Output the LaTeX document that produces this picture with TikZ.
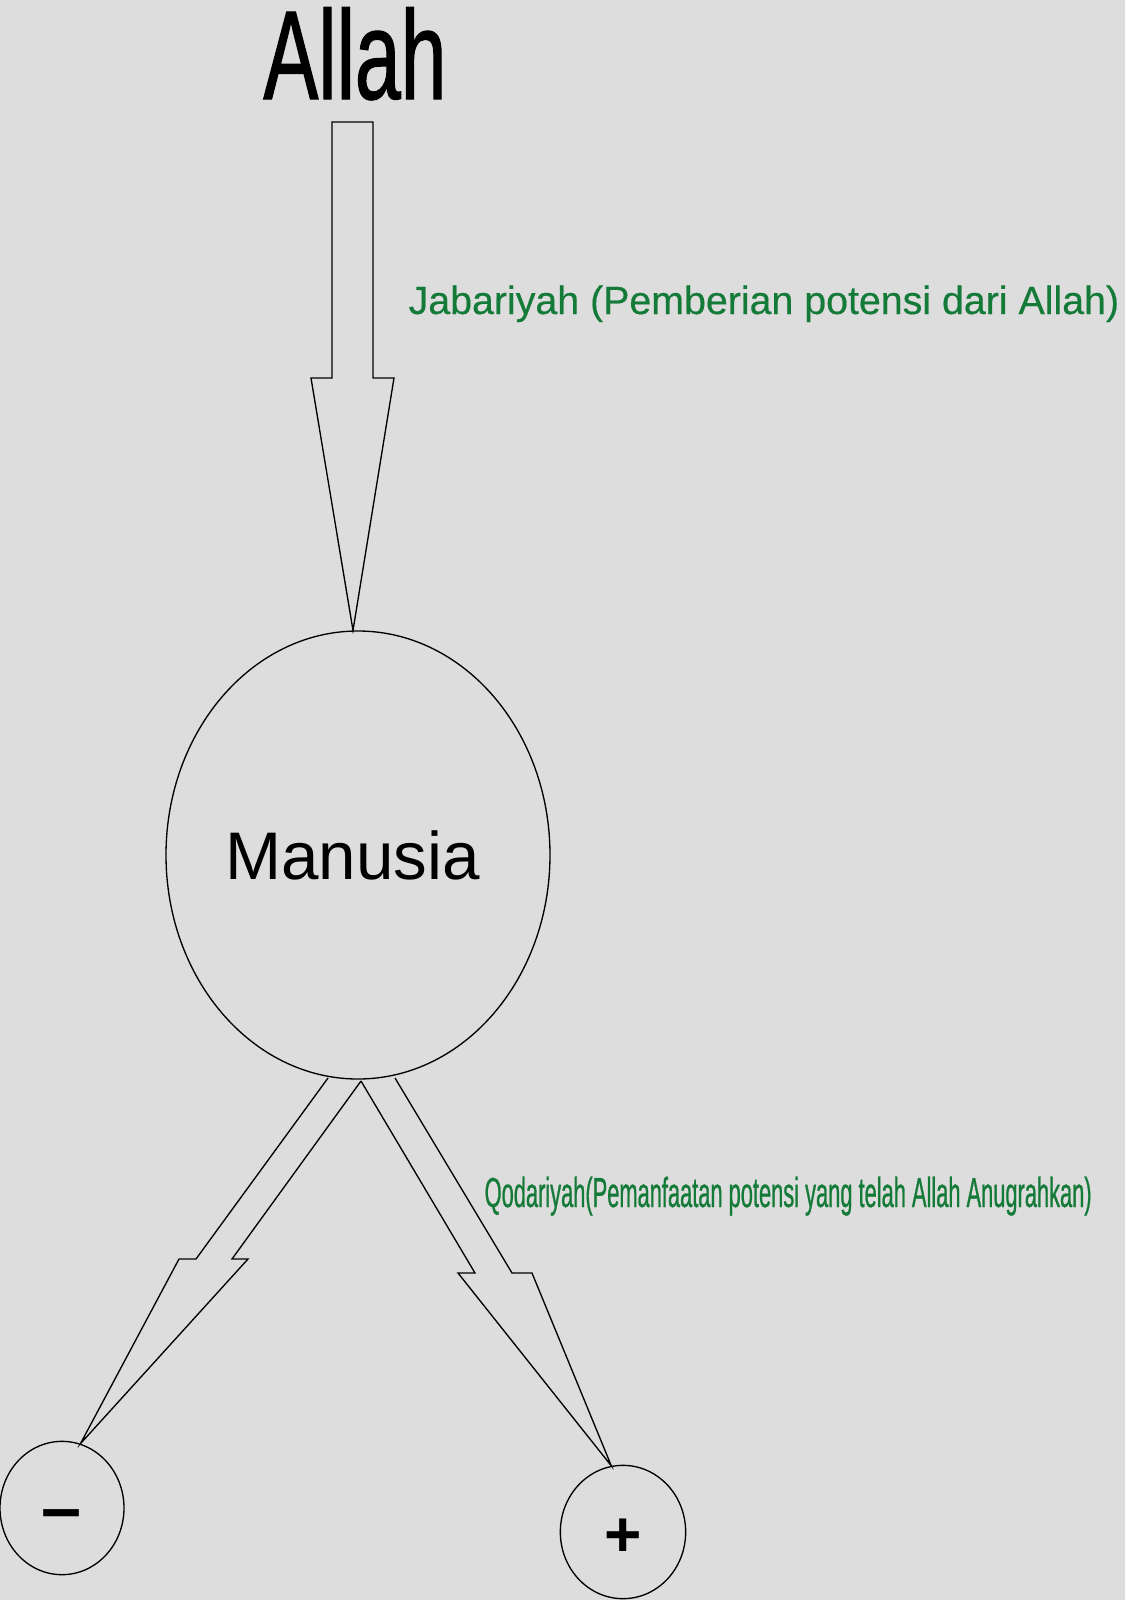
\documentclass[tikz,border=0pt]{standalone}
\usepackage{fontspec}
\setmainfont{Liberation Sans}
\newfontfamily\allahfont[FakeStretch=0.65, FakeBold=0.9]{Liberation Sans}
\newfontfamily\qodfont[FakeStretch=0.52, FakeBold=0.6]{Liberation Sans}
\newfontfamily\jabfont[FakeBold=0.4]{Liberation Sans}
\usepackage{tikz}
\usetikzlibrary{shapes,arrows,positioning,calc}
\definecolor{bggrey}{RGB}{221,221,221}
\definecolor{qgreen}{RGB}{20,122,56}

\begin{document}
\begin{tikzpicture}[x=0.75pt, y=-0.75pt, line width=1pt, auto,
  blob/.style={draw, ellipse, inner sep=0pt},
  blockarrow/.style={draw, line join=miter}]
\fill[bggrey] (0,0) rectangle (1125,1600);
\useasboundingbox (0,0) rectangle (1125,1600);
%nodes
\node[anchor=base, inner sep=0pt] (allah) at (355,99) {\allahfont\fontsize{95}{95}\selectfont Allah};
\node[blob, minimum width=288pt, minimum height=336pt] (manusia) at (358,855)
  {\fontsize{50.5}{51}\selectfont Manusia\kern8pt};
\node[blob, minimum width=93pt, minimum height=100pt, text height=36.5pt, text depth=0pt,
  font=\fontsize{54}{54}\selectfont\bfseries] (neg) at (62,1508) {–};
\node[blob, minimum width=94pt, minimum height=100pt, text height=36pt, text depth=0pt,
  font=\fontsize{48}{48}\selectfont\bfseries] (plus) at (623,1532) {+};
\node[anchor=base west, text=qgreen, inner sep=0pt] (jabariyah) at (408,314)
  {\jabfont\fontsize{29.5}{30}\selectfont Jabariyah (Pemberian potensi dari Allah)};
\node[anchor=base west, text=qgreen, inner sep=0pt] (qodariyah) at (484,1207)
  {\qodfont\fontsize{31.5}{32}\selectfont Qodariyah(Pemanfaatan potensi yang telah Allah Anugrahkan)};
%arrow ends
\coordinate (tiptop) at ($(manusia.north)+(-5,0)$);
\coordinate (tipneg) at (neg.74);
\coordinate (tipplus) at (plus.100);
\coordinate (split) at (361,1081);
%arrows
\draw[blockarrow] (332,122) -- (373,122) -- (373,378) -- (394,378) -- (tiptop)
  -- (311,378) -- (332,378) -- cycle;
\draw[blockarrow] (328,1078) -- (196,1259) -- (179,1259) -- (tipneg)
  -- (248,1259) -- (232,1259) -- (split);
\draw[blockarrow] (split) -- (475,1273) -- (458,1273) -- (tipplus)
  -- (532,1273) -- (512,1273) -- (395,1078);
\end{tikzpicture}
\end{document}
